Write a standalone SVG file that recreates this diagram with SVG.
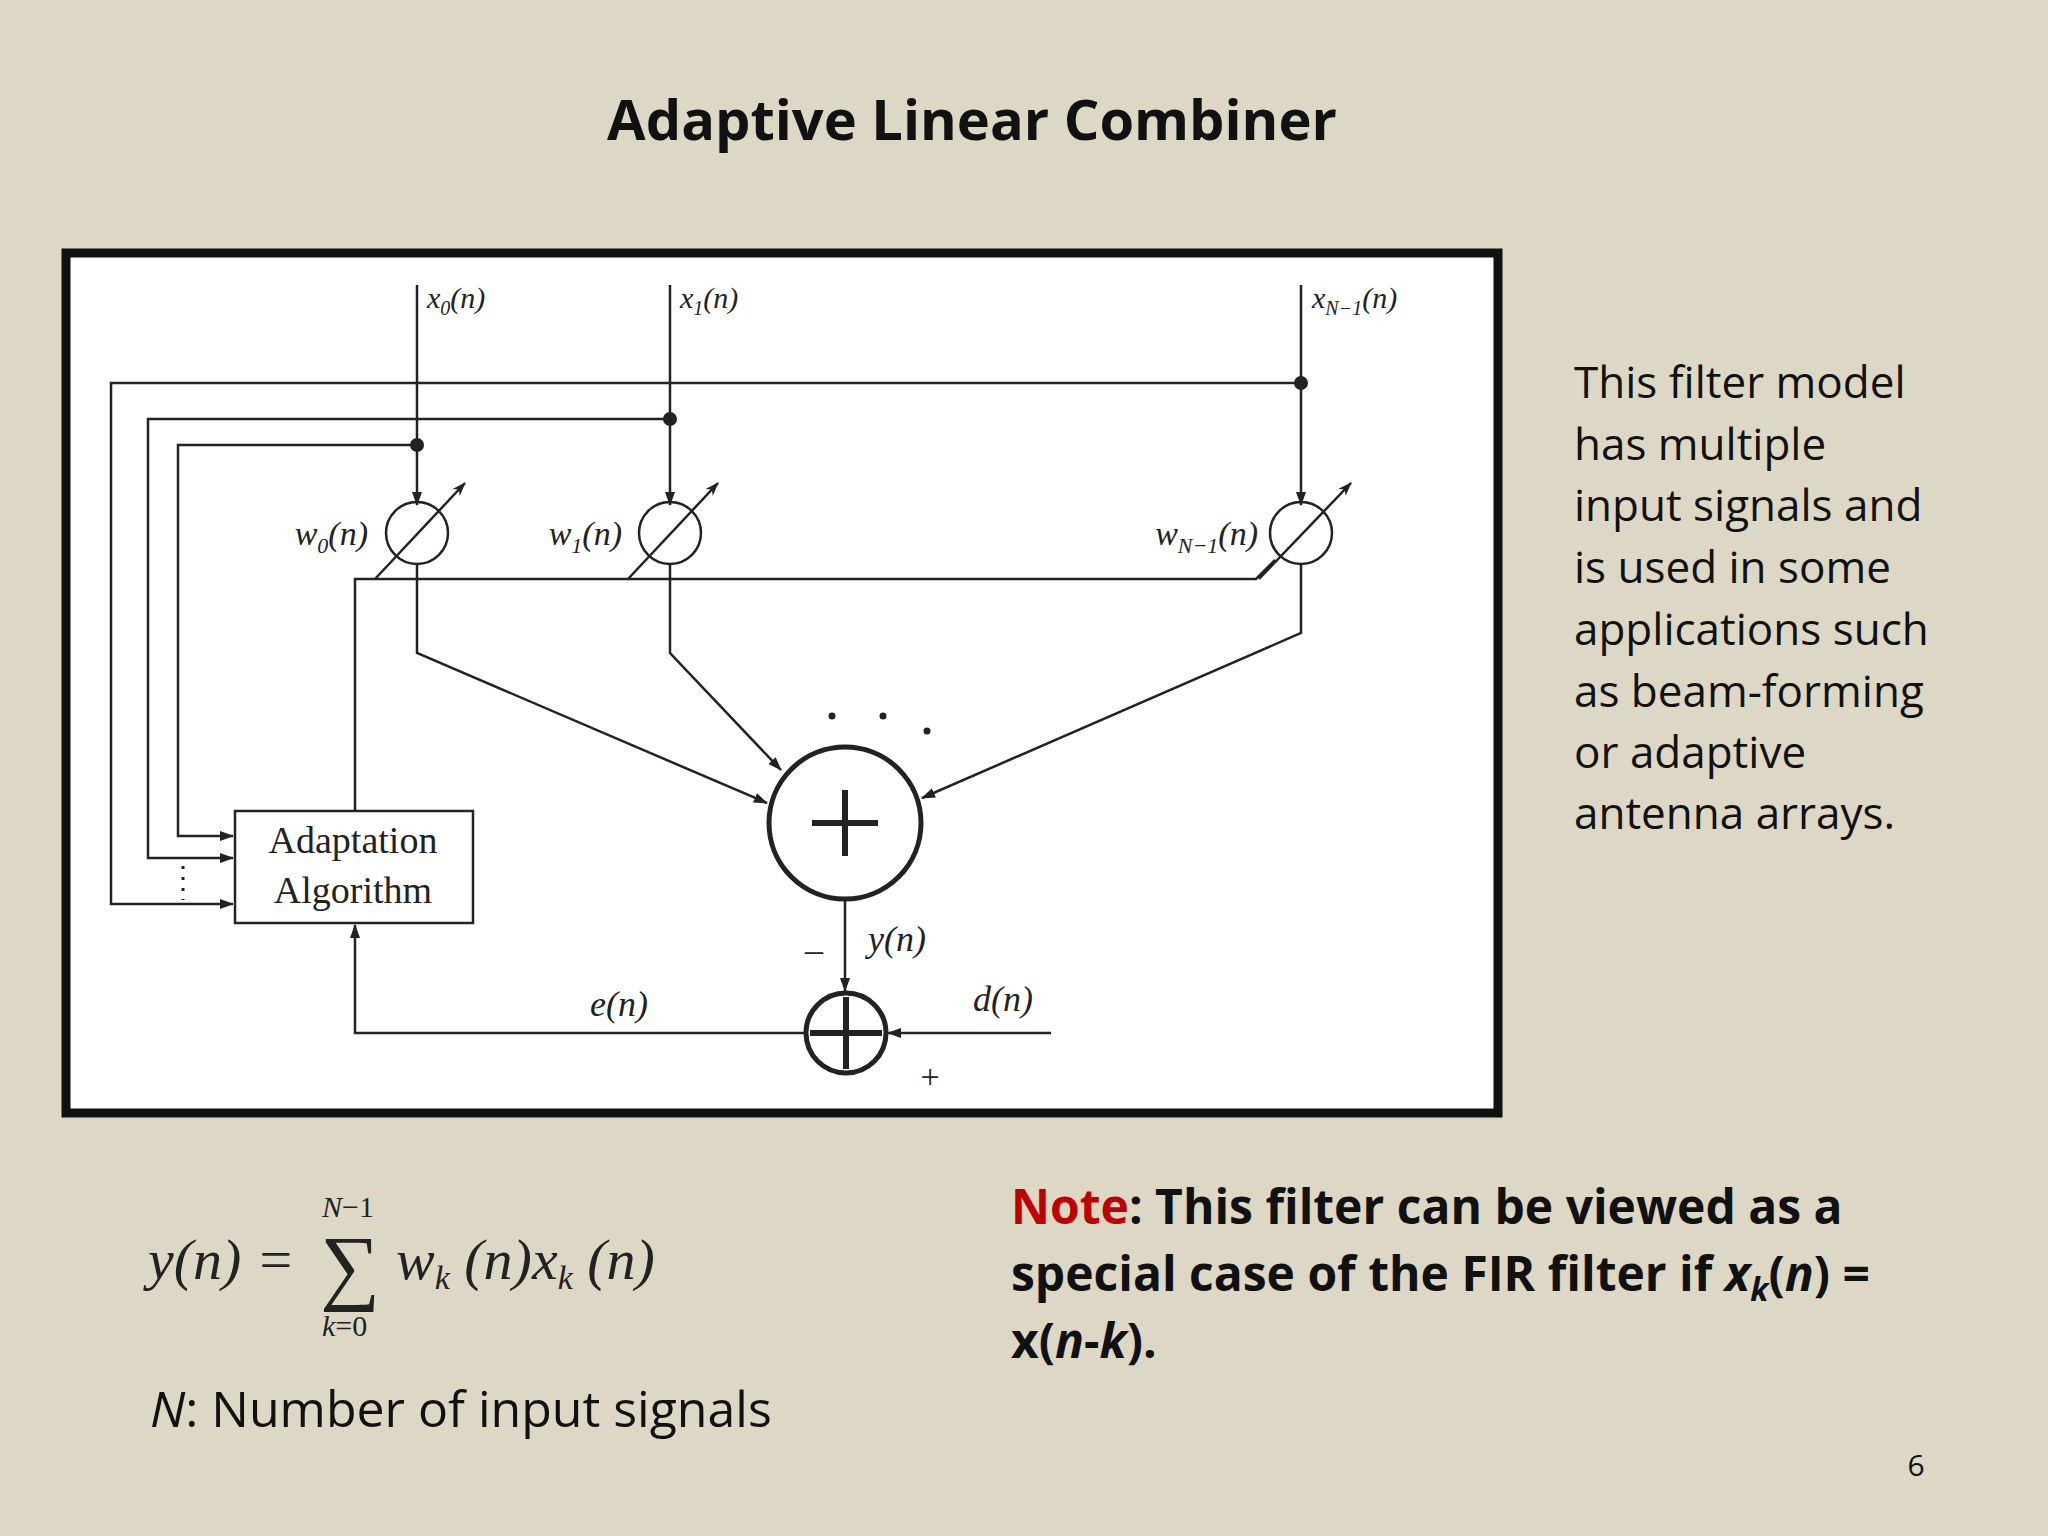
<svg xmlns="http://www.w3.org/2000/svg" width="2048" height="1536" viewBox="0 0 2048 1536">
<defs>
<marker id="ah" markerWidth="14" markerHeight="10" refX="13" refY="5" orient="auto" markerUnits="userSpaceOnUse"><path d="M0,0 L14,5 L0,10 z" fill="#222"/></marker>
<marker id="oa" markerWidth="14" markerHeight="10" refX="13" refY="5" orient="auto" markerUnits="userSpaceOnUse"><path d="M0,0 L14,5 L0,10 L4,5 z" fill="#222"/></marker>
<style>
.ln{stroke:#222;stroke-width:2.5;fill:none}
.m{font-family:"Liberation Serif",serif;font-style:italic;fill:#222}
.t{font-family:"Open Sans","Liberation Sans",sans-serif;fill:#111}
</style>
</defs>
<rect width="2048" height="1536" fill="#ddd8c5"/>
<text class="t" x="972" y="140" font-size="56" font-weight="bold" text-anchor="middle">Adaptive Linear Combiner</text>
<rect x="66" y="253" width="1432" height="860" fill="#fff" stroke="#111" stroke-width="9"/>
<g id="connectors">
<path class="ln" d="M417,285 V505" marker-end="url(#ah)"/>
<path class="ln" d="M670,285 V505" marker-end="url(#ah)"/>
<path class="ln" d="M1301,285 V505" marker-end="url(#ah)"/>
<path class="ln" d="M1301,383 H111 V904 H233" marker-end="url(#ah)"/>
<path class="ln" d="M670,419 H148 V858 H233" marker-end="url(#ah)"/>
<path class="ln" d="M417,445 H178 V836 H233" marker-end="url(#ah)"/>
<circle cx="1301" cy="383" r="7" fill="#222"/>
<circle cx="670" cy="419" r="7" fill="#222"/>
<circle cx="417" cy="445" r="7" fill="#222"/>
<path d="M183,866 V900" stroke="#222" stroke-width="3" stroke-dasharray="3,8"/>
<path class="ln" d="M355,811 V579 H1256 L1275,560"/>
<path class="ln" d="M375,579 L465,483" marker-end="url(#oa)"/>
<path class="ln" d="M628,579 L718,483" marker-end="url(#oa)"/>
<path class="ln" d="M1259,579 L1351,483" marker-end="url(#oa)"/>
<path class="ln" d="M417,564 V653 L767,803" marker-end="url(#ah)"/>
<path class="ln" d="M670,564 V653 L781,770" marker-end="url(#ah)"/>
<path class="ln" d="M1301,564 V633 L922,798" marker-end="url(#ah)"/>
<path class="ln" d="M845,899 V991" marker-end="url(#ah)"/>
<path class="ln" d="M1051,1033 H888" marker-end="url(#ah)"/>
<path class="ln" d="M806,1033 H355 V925" marker-end="url(#ah)"/>
<circle cx="832" cy="716" r="3.5" fill="#222"/>
<circle cx="883" cy="716" r="3.5" fill="#222"/>
<circle cx="927" cy="731" r="3.5" fill="#222"/>
</g>
<g id="w0"><circle cx="417" cy="533" r="31" class="ln"/><text class="m" x="368" y="545" font-size="34" text-anchor="end">w<tspan font-size="22" dy="8">0</tspan><tspan dy="-8">(n)</tspan></text></g>
<g id="w1"><circle cx="670" cy="533" r="31" class="ln"/><text class="m" x="622" y="545" font-size="34" text-anchor="end">w<tspan font-size="22" dy="8">1</tspan><tspan dy="-8">(n)</tspan></text></g>
<g id="wN"><circle cx="1301" cy="533" r="31" class="ln"/><text class="m" x="1258" y="545" font-size="34" text-anchor="end">w<tspan font-size="22" dy="8">N−1</tspan><tspan dy="-8">(n)</tspan></text></g>
<g id="xlabels">
<text class="m" x="427" y="308" font-size="30">x<tspan font-size="20" dy="7">0</tspan><tspan dy="-7">(n)</tspan></text>
<text class="m" x="680" y="308" font-size="30">x<tspan font-size="20" dy="7">1</tspan><tspan dy="-7">(n)</tspan></text>
<text class="m" x="1312" y="308" font-size="30">x<tspan font-size="20" dy="7">N−1</tspan><tspan dy="-7">(n)</tspan></text>
</g>
<g id="adapt"><rect x="235" y="811" width="238" height="112" fill="#fff" stroke="#222" stroke-width="2.5"/>
<text x="353" y="853" font-family="Liberation Serif,serif" font-size="38" text-anchor="middle" fill="#222">Adaptation</text>
<text x="353" y="903" font-family="Liberation Serif,serif" font-size="38" text-anchor="middle" fill="#222">Algorithm</text></g>
<g id="sum"><circle cx="845" cy="823" r="76" fill="#fff" stroke="#222" stroke-width="5"/><path d="M812,823 H878 M845,790 V856" stroke="#222" stroke-width="6"/></g>
<g id="err"><circle cx="846" cy="1033" r="40" fill="#fff" stroke="#222" stroke-width="5"/><path d="M810,1033 H882 M846,997 V1069" stroke="#222" stroke-width="6"/></g>
<g id="labels">
<text class="m" x="868" y="951" font-size="36">y(n)</text>
<text x="805" y="962" font-family="Liberation Serif,serif" font-size="36" fill="#222">–</text>
<text class="m" x="973" y="1011" font-size="36">d(n)</text>
<text x="930" y="1088" font-family="Liberation Serif,serif" font-size="34" text-anchor="middle" fill="#222">+</text>
<text class="m" x="590" y="1016" font-size="36">e(n)</text>
</g>
<g id="side" class="t" font-size="44">
<text x="1574" y="398">This filter model</text>
<text x="1574" y="460">has multiple</text>
<text x="1574" y="521">input signals and</text>
<text x="1574" y="583">is used in some</text>
<text x="1574" y="645">applications such</text>
<text x="1574" y="707">as beam-forming</text>
<text x="1574" y="768">or adaptive</text>
<text x="1574" y="829">antenna arrays.</text>
</g>
<g id="eq" class="m">
<text x="148" y="1279" font-size="58">y(n) =</text>
<text x="320" y="1294" font-size="84" font-style="normal">∑</text>
<text x="322" y="1217" font-size="30">N<tspan font-style="normal">−1</tspan></text>
<text x="322" y="1336" font-size="30">k<tspan font-style="normal">=0</tspan></text>
<text x="396" y="1279" font-size="58">w<tspan font-size="34" dy="10">k</tspan><tspan dy="-10"> (n)x</tspan><tspan font-size="34" dy="10">k</tspan><tspan dy="-10"> (n)</tspan></text>
</g>
<text class="t" x="150" y="1427" font-size="50"><tspan font-style="italic">N</tspan>: Number of input signals</text>
<g id="note" class="t" font-size="48" font-weight="bold">
<text x="1011" y="1224"><tspan fill="#c00000">Note</tspan>: This filter can be viewed as a</text>
<text x="1011" y="1291">special case of the FIR filter if <tspan font-style="italic">x<tspan font-size="32" dy="10">k</tspan></tspan><tspan dy="-10">(</tspan><tspan font-style="italic">n</tspan>) =</text>
<text x="1011" y="1358">x(<tspan font-style="italic">n</tspan>-<tspan font-style="italic">k</tspan>).</text>
</g>
<text class="t" x="1916" y="1476" font-size="30" fill="#999" text-anchor="middle">6</text>
</svg>
